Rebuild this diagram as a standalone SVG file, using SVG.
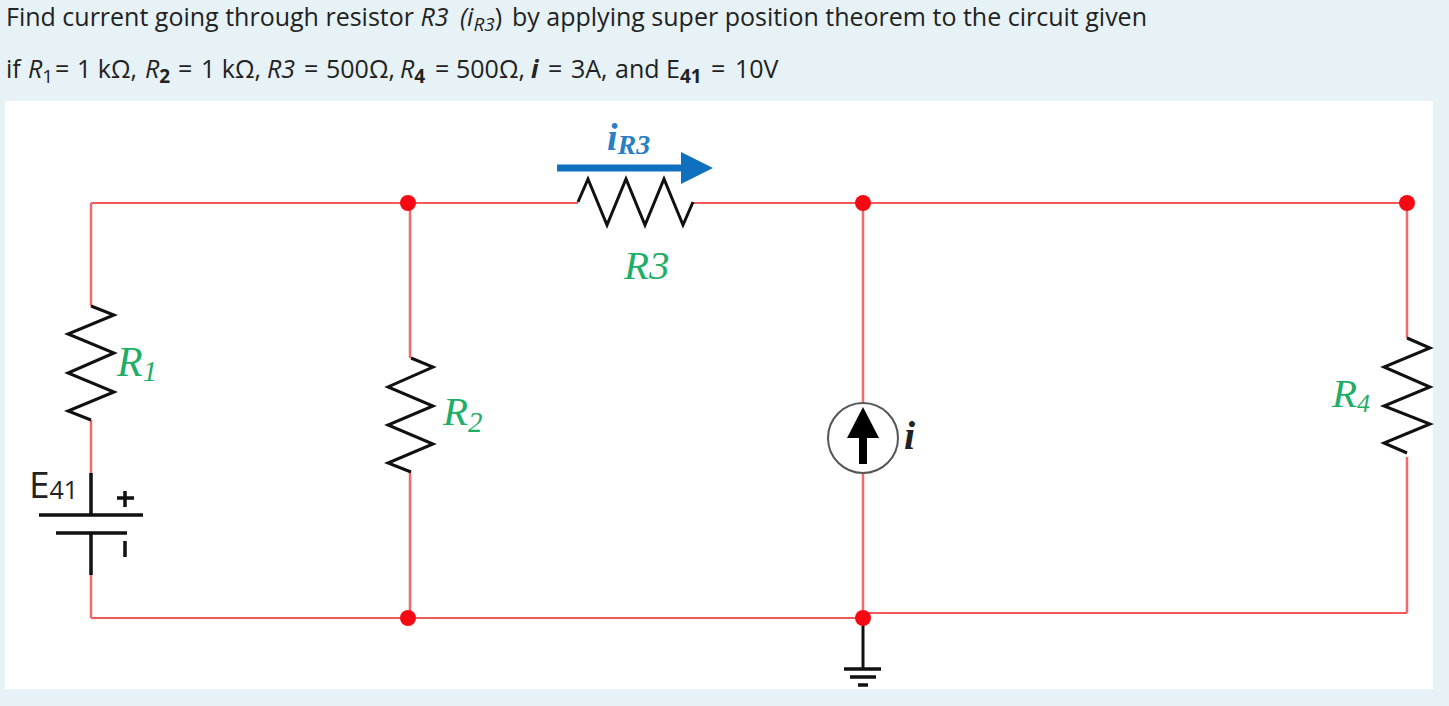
<svg xmlns="http://www.w3.org/2000/svg" width="1449" height="706" viewBox="0 0 1449 706">
<style>
.h{font-family:"Open Sans","Noto Sans",sans-serif;font-size:25px;fill:#222}
.sub{font-size:19px}
.it{font-style:italic}
.b{font-weight:bold}
.w{fill:none;stroke:#f05a5a;stroke-width:2}
.v{fill:none;stroke:#f26a6a;stroke-width:2.5}
.z{fill:none;stroke:#111;stroke-width:3;stroke-linejoin:miter}
.k{fill:none;stroke:#111;stroke-width:3.5}
.g{font-family:"Liberation Serif",serif;font-style:italic;fill:#1fae6a}
.n{fill:#f50a14}
</style>
<rect width="1449" height="706" fill="#e6f2f5"/>
<rect x="5" y="101" width="1428" height="588" fill="#fff"/>
<g id="question">
<text class="h" x="6" y="26">Find current going through resistor <tspan class="it">R3</tspan></text>
<text class="h it" x="460" y="26">(i<tspan class="sub" dy="5">R3</tspan><tspan dy="-5" font-style="normal">)</tspan></text>
<text class="h" x="512" y="26">by applying super position theorem to the circuit given</text>
<text class="h" y="78"><tspan x="6">if</tspan><tspan class="it" x="28">R</tspan><tspan class="sub" dy="5">1</tspan><tspan dy="-5" x="55">=</tspan><tspan x="77">1 kΩ,</tspan><tspan class="it" x="145">R</tspan><tspan class="sub b" dy="5">2</tspan><tspan dy="-5" x="178">=</tspan><tspan x="201">1 kΩ,</tspan><tspan class="it" x="267">R3</tspan><tspan x="304">=</tspan><tspan x="326">500Ω,</tspan><tspan class="it" x="400">R</tspan><tspan class="sub b" dy="5">4</tspan><tspan dy="-5" x="435">=</tspan><tspan x="456">500Ω,</tspan><tspan class="it b" x="531">i</tspan><tspan x="548">=</tspan><tspan x="571">3A,</tspan><tspan x="615">and</tspan><tspan x="666">E</tspan><tspan class="sub b" dy="5">41</tspan><tspan dy="-5" x="711">=</tspan><tspan x="735">10V</tspan></text>
</g>
<g id="connectors">
<path class="w" d="M91 203H578M693 203H1407M91 618H863M863 613H1407"/>
<path class="v" d="M91 306V203M1407 203V338M91 420V473M91 575V618M410 203V358M410 472V618M863 203V618M1407 613V457"/>
</g>
<g id="R1">
<path class="z" d="M91 306L114 315L68 334L114 353L68 373L114 392L68 411L91 420"/>
<text class="g" x="117" y="376" font-size="42">R<tspan font-size="29" dy="5">1</tspan></text>
</g>
<g id="E41">
<path class="k" d="M91 473V515M39 515H143M56 533H127M91 533V575"/>
<text x="29" y="498" font-family="Open Sans,sans-serif" font-size="37" fill="#222">E<tspan font-size="25" dy="1">41</tspan></text>
<path class="k" d="M125 491V507M117 498H134M125 541V557"/>
</g>
<g id="R2">
<path class="z" d="M411 358L433 367L388 387L433 406L388 425L433 444L388 463L411 472"/>
<text class="g" x="443" y="425" font-size="41">R<tspan font-size="29" dy="7">2</tspan></text>
</g>
<g id="R3">
<path class="z" d="M578 202L588 179L607 225L626 179L645 225L664 179L683 225L693 202"/>
<text class="g" x="624" y="279" font-size="41">R3</text>
</g>
<g id="iR3">
<path d="M557 168H684" fill="none" stroke="#0f70c0" stroke-width="7"/>
<path d="M681 152L713 168L681 184Z" fill="#0f70c0"/>
<text x="607" y="150" font-family="Liberation Serif,serif" font-style="italic" font-weight="bold" font-size="38" fill="#2a7fc4">i<tspan font-size="28" dy="4">R3</tspan></text>
</g>
<g id="source">
<circle cx="863" cy="438" r="35" fill="#fff" stroke="#555" stroke-width="2"/>
<path d="M863 407L847 438H879Z" fill="#000"/>
<path d="M863 436V464" stroke="#000" stroke-width="8" fill="none"/>
<text x="904" y="449" font-family="Liberation Serif,serif" font-style="italic" font-weight="bold" font-size="40" fill="#222">i</text>
</g>
<g id="ground">
<path class="z" d="M863 622V669"/>
<path class="k" d="M844 669H881M850 677H876M858 685H868"/>
</g>
<g id="R4">
<path class="z" d="M1407 338L1430 348L1384 367L1430 387L1384 406L1430 424L1384 443L1407 453"/>
<text class="g" x="1332" y="407" font-size="41">R<tspan font-size="26" dy="5">4</tspan></text>
</g>
<g id="nodes">
<circle class="n" cx="408" cy="203" r="8"/>
<circle class="n" cx="863" cy="203" r="8"/>
<circle class="n" cx="1407" cy="203" r="8"/>
<circle class="n" cx="408" cy="618" r="8"/>
<circle class="n" cx="863" cy="618" r="8"/>
</g>
</svg>
